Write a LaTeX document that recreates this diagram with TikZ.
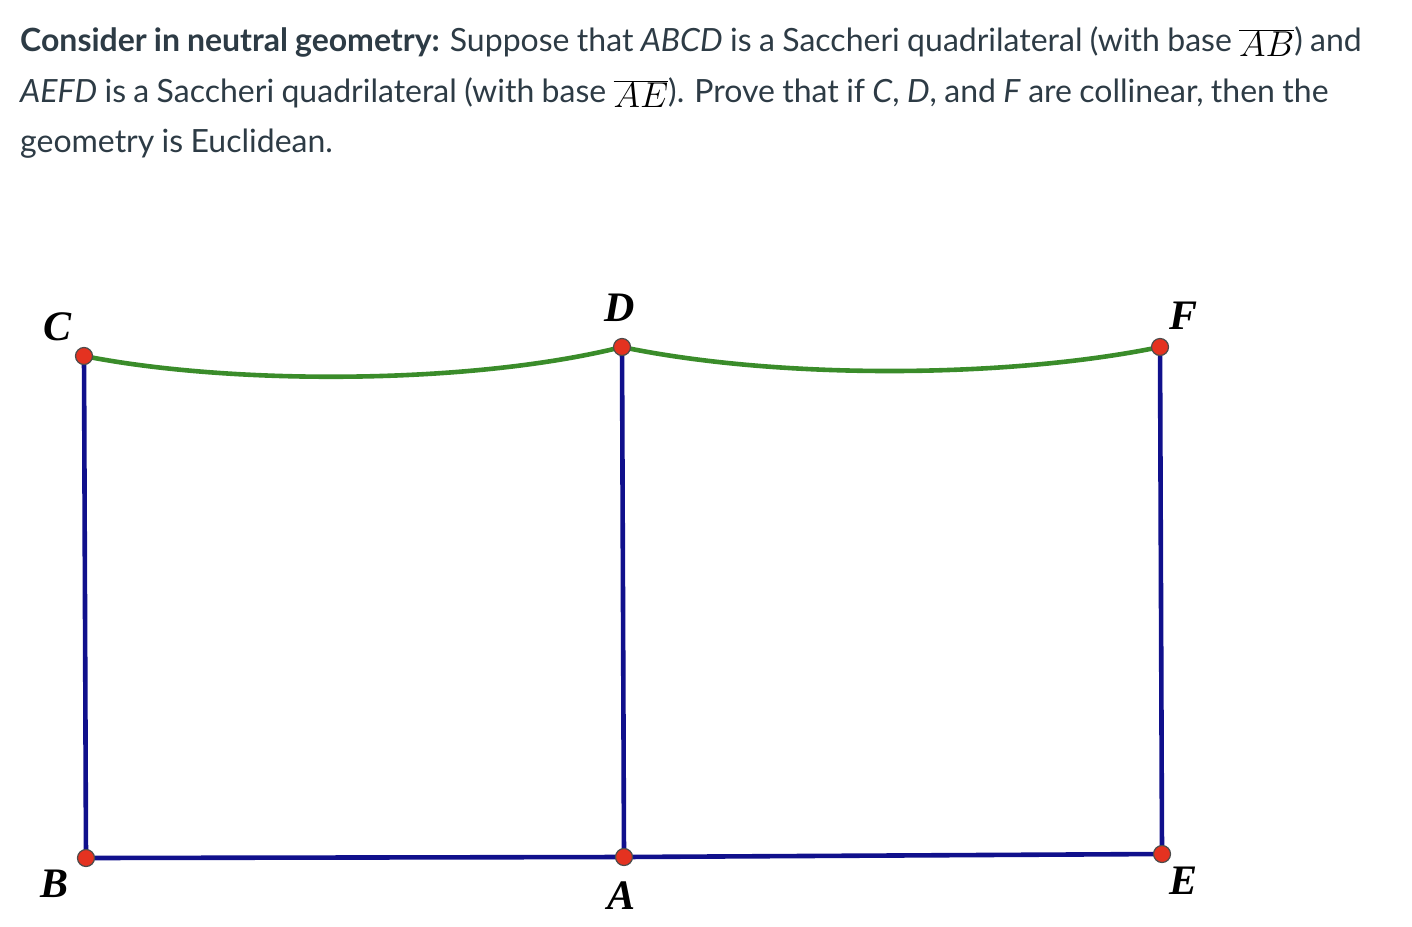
\documentclass[tikz,border=0pt]{standalone}
\usepackage{fix-cm}
\usepackage{fontspec}
\setmainfont{Lato}[WordSpace=0.9]
\newfontfamily\ptfont{Liberation Serif}
\usepackage{tikz}

\definecolor{txtgray}{RGB}{45,59,69}
\definecolor{sideblue}{RGB}{16,16,140}
\definecolor{topgreen}{RGB}{58,140,42}
\definecolor{ptred}{RGB}{228,50,32}

\newcommand{\segname}[1]{\raisebox{-5pt}{\color{black}\fontsize{36}{36}\selectfont$\overline{#1}$}}

\tikzset{
  textline/.style={anchor=base west, inner sep=0pt, text=txtgray, font=\fontsize{32}{38}\selectfont},
  side/.style={sideblue, line width=4.6pt},
  summit/.style={topgreen, line width=4.6pt},
  ptlabel/.style={inner sep=0pt, font=\ptfont\bfseries\itshape\fontsize{42}{42}\selectfont}
}

\begin{document}
\begin{tikzpicture}[x=1pt, y=-1pt]
        \useasboundingbox (0, 0) rectangle (1412, 926);

        % problem statement
        \node[textline] (line1) at (20, 51) {\textbf{Consider in neutral geometry:} Suppose that \textit{ABCD} is a Saccheri quadrilateral (with base \segname{AB}) and};
        \node[textline] (line2) at (20, 102) {\textit{AEFD} is a Saccheri quadrilateral (with base \segname{AE}). Prove that if \textit{C}, \textit{D}, and \textit{F} are collinear, then the};
        \node[textline] (line3) at (20, 152) {geometry is Euclidean.};

        \coordinate (C) at (84, 356);
        \coordinate (D) at (622, 347);
        \coordinate (F) at (1160, 347);
        \coordinate (B) at (86, 858);
        \coordinate (A) at (624, 857);
        \coordinate (E) at (1162, 854);

        \draw[side] (B) -- (C);
        \draw[side] (A) -- (D);
        \draw[side] (E) -- (F);
        \draw[side] (B) -- (A) -- (E);

        \draw[summit] (C) .. controls (230, 385) and (470, 385) .. (D);
        \draw[summit] (D) .. controls (780, 380) and (1010, 378) .. (F);

        \foreach \p in {A, B, C, D, E, F}
          \filldraw[fill=ptred, draw=black!70, line width=1.2pt] (\p) circle (8.5pt);

        \node[ptlabel] (labC) at (58, 327) {C};
        \node[ptlabel] (labD) at (620, 308) {D};
        \node[ptlabel] (labF) at (1183, 316) {F};
        \node[ptlabel] (labB) at (55, 884) {B};
        \node[ptlabel] (labA) at (621, 896) {A};
        \node[ptlabel] (labE) at (1183, 881) {E};
      \end{tikzpicture}
\end{document}
